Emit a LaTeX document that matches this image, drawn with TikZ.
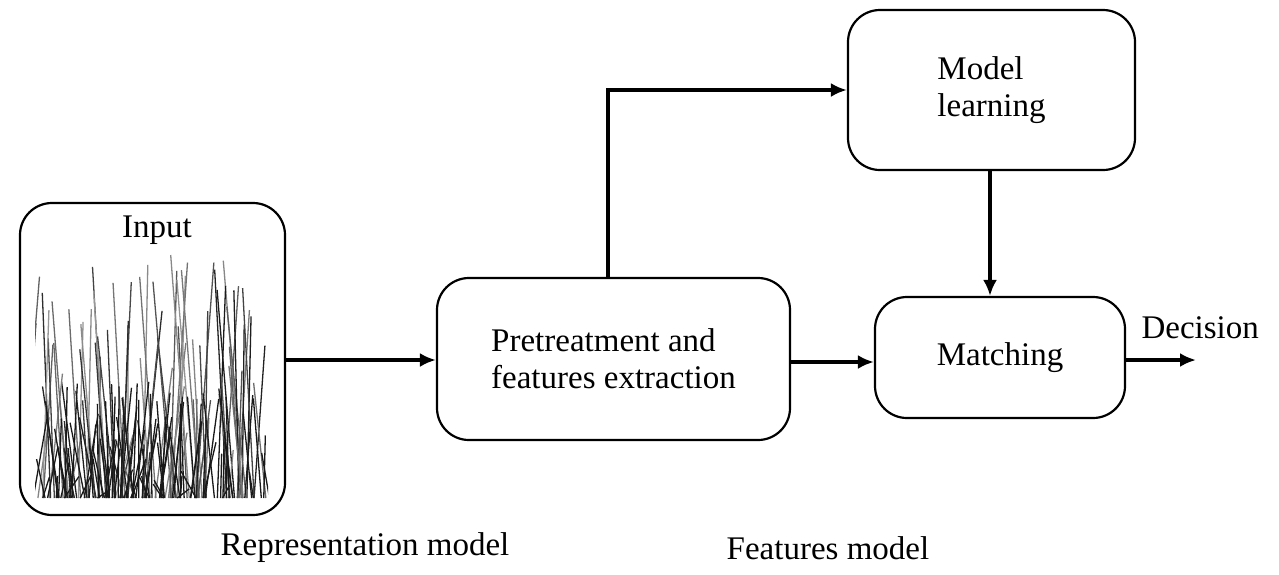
\documentclass[tikz,border=0pt]{standalone}
\usepackage{fontspec}
\setmainfont{Liberation Serif}
\usetikzlibrary{arrows.meta}
\begin{document}
\begin{tikzpicture}[x=1pt,y=-1pt,
  box/.style={draw,line width=2.2pt,rounded corners=32pt},
  arr/.style={line width=3.5pt,-{Latex[length=16pt,width=14pt]}},
  lab/.style={font=\fontsize{33}{37}\selectfont,align=left}]
\useasboundingbox (0,0) rectangle (1279,574);
\fill[white] (0,0) rectangle (1279,574);
\pgfmathsetseed{7}
\begin{scope}
\clip (35,252) rectangle (268,498);
\foreach \i in {1,...,90}{
  \pgfmathsetmacro{\xa}{35+rnd*233}
  \pgfmathsetmacro{\xb}{\xa+(rnd-0.5)*40}
  \pgfmathsetmacro{\yt}{255+rnd*200}
  \pgfmathsetmacro{\g}{40+rnd*50}
  \draw[black!\g,line width=1.3pt] (\xb,498) -- (\xa,\yt);
}
\foreach \i in {1,...,90}{
  \pgfmathsetmacro{\xa}{35+rnd*233}
  \pgfmathsetmacro{\yt}{380+rnd*110}
  \draw[black!90,line width=1.3pt] (\xa+rnd*30-15,498) -- (\xa,\yt);
}
\end{scope}
\node[box,minimum width=265pt,minimum height=312pt] (in) at (152.5,359) {};
\node[lab] (inl) at (157,230) {Input};
\node[box,minimum width=353pt,minimum height=162pt,lab,align=left] (pre) at (613.5,359) {Pretreatment and\\features extraction};
\node[box,minimum width=287pt,minimum height=160pt,lab,align=left] (ml) at (991.5,90) {Model\\learning};
\node[box,minimum width=250pt,minimum height=121pt,lab] (mat) at (1000,357.5) {Matching};
\coordinate (dec) at (1196,360);
\node[lab,anchor=west] (decl) at (1138,328) {Decision};
\draw[arr] (in.east |- 0,360) -- (pre.west |- 0,360);
\draw[arr] (pre.east |- 0,362) -- (mat.west |- 0,362);
\draw[arr] (608,278) |- (ml.west |- 0,90);
\draw[arr] (990,170) -- (mat.north -| 990,0);
\draw[arr] (mat.east |- dec) -- (dec);
\node[lab] (rep) at (365,548) {Representation model};
\node[lab] (fm) at (828,548) {Features model};
\end{tikzpicture}
\end{document}
